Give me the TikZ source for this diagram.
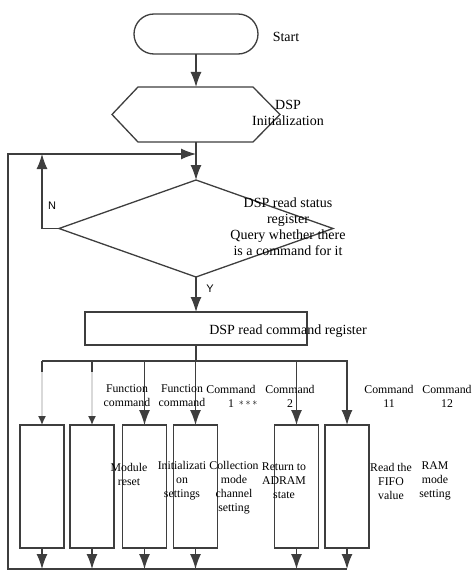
\documentclass[tikz,border=0pt]{standalone}
\usepackage{fontspec}
\setmainfont{Liberation Serif}
\newfontfamily\arialfont{Liberation Sans}
\usetikzlibrary{arrows.meta,shapes.geometric}
\definecolor{linegray}{RGB}{62,62,62}

\begin{document}
\begin{tikzpicture}[x=1pt,y=-1pt,>={Latex[length=15pt,width=11pt]},
  line/.style={draw=linegray,line width=1.3pt},
  faint/.style={draw=gray!30,line width=1.3pt,-{Latex[length=9pt,width=8pt,color=linegray]}},
  outline/.style={draw=linegray,line width=1.3pt,inner sep=0pt,outer sep=0pt},
  box/.style={outline,minimum width=44pt,minimum height=123pt},
  big/.style={font=\fontsize{14}{16}\selectfont,align=center},
  small/.style={font=\fontsize{11.8}{14}\selectfont,align=center},
  yn/.style={font=\arialfont\fontsize{11}{13}\selectfont}]

\useasboundingbox (0,0) rectangle (474,578);

\node[outline,rounded corners=20pt,minimum width=124pt,minimum height=40pt] (start) at (196,34) {};
\node[big] (startlbl) at (286,37) {Start};

\node[inner sep=0pt,outer sep=0pt,minimum width=168pt,minimum height=55pt] (init) at (196,114.5) {};
\draw[line] (init.west) -- ([xshift=26pt]init.north west) -- ([xshift=-27pt]init.north east)
  -- (init.east) -- ([xshift=-27pt]init.south east) -- ([xshift=26pt]init.south west) -- cycle;
\node[big] (initlbl) at (288,113) {DSP\\Initialization};

\node[outline,diamond,minimum width=274pt,minimum height=97pt] (query) at (196,228.5) {};
\node[big] (querylbl) at (288,227) {DSP read status\\register\\Query whether there\\is a command for it};

\node[outline,minimum width=222pt,minimum height=33pt] (cmd) at (196,328.5) {};
\node[big] (cmdlbl) at (288,331) {DSP read command register};

\draw[line,->] (start) -- (init);
\draw[line,->] (init.south) -- (query.north);
\draw[line,->] (query.south) -- (cmd.north);
\node[yn] (ylbl) at (210,289) {Y};

\coordinate (merge) at (196,154);
\coordinate (nbend) at (42,228.5);
\draw[line,->] (query.west) -- (nbend) -- (nbend |- merge);
\node[yn] (nlbl) at (52,206) {N};

\coordinate (split) at (196,361);
\coordinate (busL) at (42,361);
\coordinate (busR) at (348,361);
\draw[line] (cmd.south) -- (split);
\draw[line] (busL) -- (busR);

\foreach \i/\x in {1/42,2/92,3/144.5,4/195.5,5/296.5,6/347}{
  \node[box] (b\i) at (\x,486.5) {};
  \coordinate (top\i) at (\x,361);
  \coordinate (bot\i) at (\x,569);
  \draw[line,->] (b\i.south) -- (bot\i);
}
\foreach \i in {3,4,5,6}
  \draw[line,->] (top\i) -- (b\i.north);
\foreach \i in {1,2}{
  \draw[line] (top\i) -- ++(0,11) coordinate (tick\i);
  \draw[faint] (tick\i) -- (b\i.north);
}

\coordinate (loopBL) at (8,569);
\coordinate (loopTL) at (8,154);
\draw[line,->] (bot6) -- (loopBL) -- (loopTL) -- (merge);

\node[small] (fn1) at (127,396) {Function\\command};
\node[small] (fn2) at (182,396) {Function\\command};
\node[small] (cmd1) at (231,396) {Command\\1\rlap{\hspace{5pt}\raisebox{2pt}{\fontsize{10}{10}\selectfont${*}\,{*}\,{*}$}}};
\node[small] (cmd2) at (290,396) {Command\\2};
\node[small] (cmd11) at (389,396) {Command\\11};
\node[small] (cmd12) at (447,396) {Command\\12};

\node[small] (reset) at (129,474) {Module\\reset};
\node[small] (initset) at (182,481) {Initializati\\on\\settings};
\node[small] (collect) at (234,488) {Collection\\mode\\channel\\setting};
\node[small] (adram) at (284,481) {Return to\\ADRAM\\state};
\node[small] (fifo) at (391,481) {Read the\\FIFO\\value};
\node[small] (ram) at (435,481) {RAM\\mode\\setting};

\end{tikzpicture}
\end{document}
